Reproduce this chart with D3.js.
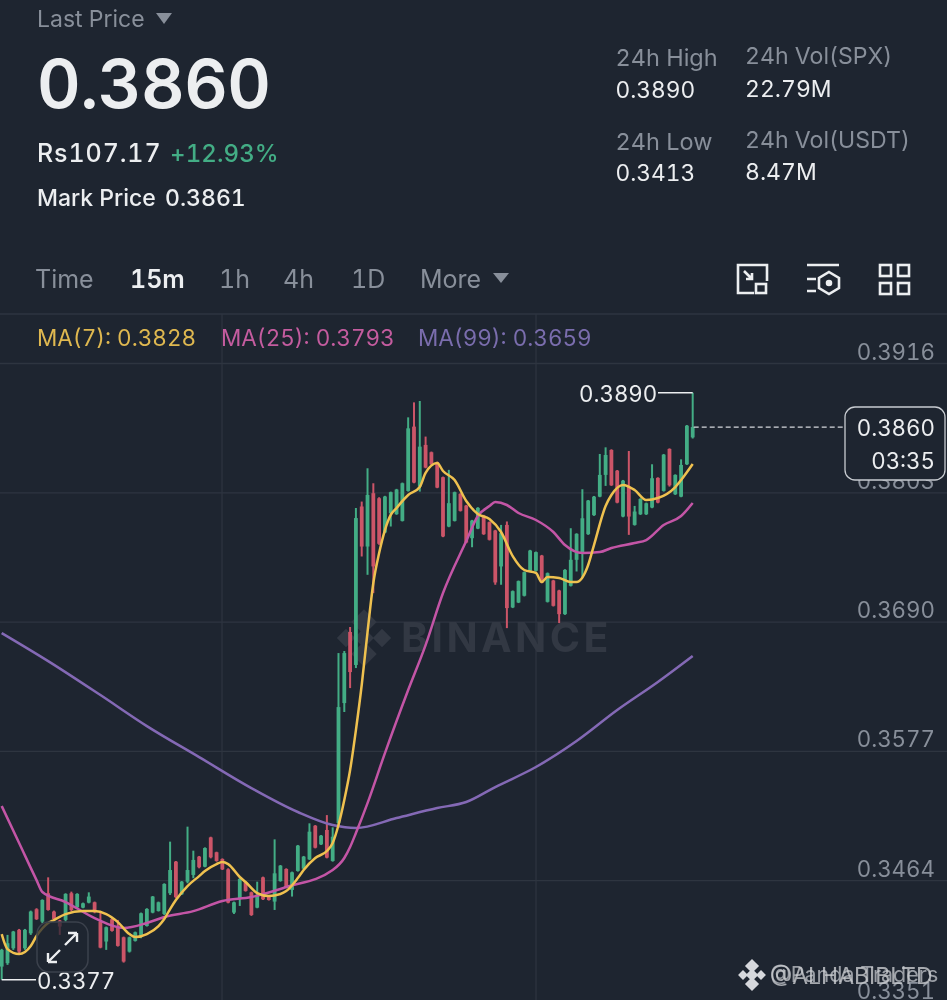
<!DOCTYPE html>
<html><head><meta charset="utf-8">
<script src="https://cdn.jsdelivr.net/npm/d3@7"></script>
<style>html,body{margin:0;padding:0;background:#1e2530;overflow:hidden}svg{display:block;filter:blur(.45px)}text{font-family:Inter,"Noto Sans",sans-serif;font-variant-numeric:tabular-nums}</style>
</head><body><svg id="c" width="947" height="1000"></svg>
<script>
const candleOpen=[.33885,.33915,.34045,.34206,.34045,.34176,.34386,.34278,.34526,.34366,.34287,.34293,.34526,.34403,.34400,.34444,.34447,.34278,.34104,.34299,.34235,.34141,.34016,.34110,.34147,.34240,.34357,.34371,.34345,.34526,.34802,.34517,.34627,.34686,.34846,.34758,.35014,.34884,.34825,.34735,.34357,.34482,.34622,.34534,.34400,.34665,.34505,.34453,.34633,.34738,.34555,.34721,.34741,.34822,.35116,.34953,.35079,.34808,.35140,.36188,.36809,.36521,.37906,.37556,.38022,.37978,.37679,.37847,.37839,.37780,.38042,.38604,.38080,.38444,.38380,.38293,.38162,.37731,.37780,.38016,.37914,.37629,.37713,.37827,.37769,.37696,.37382,.37745,.37024,.37067,.37126,.37344,.37344,.37477,.37073,.37259,.37172,.36965,.37213,.37440,.37498,.37664,.37830,.37992,.38182,.38400,.38219,.37818,.38080,.37745,.37838,.37838,.37897,.38156,.38042,.38409,.38013,.37992,.38275,.38510];
const candleHigh=[.34040,.34162,.34197,.34214,.34214,.34374,.34395,.34473,.34665,.34374,.34293,.34526,.34540,.34526,.34444,.34534,.34453,.34366,.34235,.34307,.34293,.34147,.34147,.34191,.34357,.34395,.34502,.34453,.34613,.34977,.34808,.34633,.35108,.34898,.34852,.34927,.35020,.34889,.34831,.34744,.34453,.34657,.34627,.34540,.34627,.34671,.34511,.34997,.34773,.34744,.34715,.34948,.34852,.35137,.35122,.35035,.35209,.35102,.36625,.36643,.36853,.37893,.37949,.38240,.38109,.37987,.37999,.38036,.38060,.38115,.38685,.38816,.38828,.38517,.38386,.38298,.38167,.38226,.38036,.38022,.37920,.37789,.37900,.37833,.37775,.37702,.37745,.37775,.37172,.37259,.37338,.37527,.37512,.37483,.37329,.37265,.37178,.37358,.37716,.37672,.38057,.37963,.37998,.38365,.38423,.38406,.38225,.38138,.38391,.37911,.37978,.37940,.38275,.38161,.38365,.38414,.38187,.38318,.38618,.38900];
const candleLow=[.33770,.33900,.34031,.33987,.34031,.34162,.34293,.34264,.34374,.34293,.34162,.34278,.34366,.34395,.34395,.34438,.34351,.34045,.34031,.34191,.34060,.33920,.34008,.34104,.34133,.34235,.34351,.34366,.34336,.34511,.34482,.34511,.34613,.34657,.34744,.34753,.34831,.34802,.34729,.34438,.34345,.34415,.34540,.34328,.34395,.34467,.34462,.34380,.34627,.34569,.34497,.34715,.34735,.34817,.34918,.34948,.34831,.34802,.35105,.36110,.36319,.36494,.37469,.37309,.37149,.37571,.37673,.37731,.37833,.37775,.38036,.38109,.38036,.38240,.38269,.38066,.37638,.37725,.37775,.37862,.37585,.37550,.37708,.37658,.37609,.37222,.37222,.36843,.37018,.37062,.37120,.37338,.37338,.37236,.37067,.37032,.36887,.36959,.37207,.37338,.37280,.37658,.37824,.37987,.38086,.38086,.37934,.37812,.37658,.37739,.37832,.37832,.37891,.37934,.38036,.38080,.38007,.37987,.38269,.38500];
const candleClose=[.34031,.34089,.34191,.34016,.34206,.34366,.34299,.34467,.34380,.34299,.34235,.34520,.34380,.34520,.34438,.34497,.34360,.34051,.34229,.34197,.34066,.33929,.34141,.34185,.34351,.34389,.34497,.34447,.34607,.34729,.34491,.34627,.34729,.34817,.34753,.34921,.34840,.34808,.34735,.34444,.34447,.34651,.34546,.34336,.34511,.34473,.34467,.34700,.34767,.34575,.34709,.34942,.34846,.35064,.34924,.35029,.34837,.35020,.36153,.36625,.36459,.37805,.37556,.38007,.37382,.37580,.37993,.38031,.38054,.38109,.38589,.38115,.38429,.38246,.38275,.38071,.37644,.37935,.38031,.37868,.37591,.37783,.37894,.37664,.37615,.37242,.37673,.37018,.37166,.37254,.37332,.37521,.37507,.37242,.37323,.37038,.36965,.37352,.37440,.37667,.37803,.37958,.37992,.38182,.38356,.38091,.37940,.38132,.37818,.37862,.37972,.37934,.38153,.37940,.38359,.38091,.38182,.38269,.38612,.38600];
const ma7Index=[0,1,3,5,6,8,9,11,14,16,18,20,22,23,25,27,28,29,30,32,34,35,37,38,39,41,42,44,46,48,49,51,52,54,56,57,58,59,60,61,62,63,64,65,66,67,68,70,72,73,75,76,78,80,82,84,86,88,90,92,93,94,96,98,99,101,102,104,105,107,109,111,113,116,117,119];
const ma7Value=[.34169,.34038,.33995,.34065,.34152,.34266,.34292,.34344,.34370,.34370,.34344,.34274,.34169,.34143,.34169,.34239,.34301,.34388,.34467,.34589,.34676,.34720,.34781,.34799,.34781,.34668,.34624,.34528,.34502,.34519,.34545,.34659,.34729,.34834,.34895,.34965,.35122,.35341,.35603,.35952,.36346,.36809,.37237,.37499,.37700,.37832,.37893,.38006,.38076,.38199,.38286,.38216,.38137,.37954,.37840,.37797,.37683,.37473,.37351,.37325,.37246,.37290,.37281,.37246,.37246,.37395,.37569,.37910,.38006,.38094,.38050,.37963,.37980,.38076,.38137,.38277];
const ma25Index=[0,3,6,7,11,16,21,25,28,33,38,43,49,57,59,60,61,63,66,70,73,76,80,82,84,85,87,89,92,95,97,100,103,105,109,111,114,117,119];
const ma25Value=[.35288,.34965,.34641,.34537,.34449,.34309,.34222,.34266,.34318,.34370,.34458,.34493,.34580,.34729,.34834,.34930,.35052,.35314,.35751,.36302,.36695,.37150,.37604,.37823,.37910,.37945,.37919,.37849,.37788,.37683,.37569,.37499,.37508,.37543,.37587,.37613,.37744,.37823,.37936];
const ma99Index=[0,8,17,25,34,43,51,57,61,68,75,80,85,92,99,106,113,119];
const ma99Value=[.36800,.36555,.36258,.35987,.35716,.35445,.35236,.35122,.35096,.35183,.35271,.35323,.35454,.35629,.35856,.36127,.36372,.36599];
const priceTicks=[.3916,.3803,.3690,.3577,.3464,.3351];
const timeTabs=["Time","15m","1h","4h","1D","More"];
const highPrice=.3890,lowPrice=.3377,lastPrice=.3860;

const BG="#1e2530",GREY="#888f9a",WHITE="#eceef0",GRID="#2e3540",UP="#43ad85",DOWN="#cc5568";
const svg=d3.select("#c");
svg.append("rect").attr("width",947).attr("height",1000).attr("fill",BG);
const x=d3.scaleLinear().domain([0,candleOpen.length-1]).range([1.7,692.7]);
const y=d3.scaleLinear().domain([.3351,.3916]).range([1009.5,363]);
function txt(t,px,py,size,fill,weight,anchor,ls){return svg.append("text").text(t).attr("x",px).attr("y",py).attr("font-size",size).attr("fill",fill).attr("font-weight",weight||400).attr("text-anchor",anchor||"start").attr("letter-spacing",ls||0);}
function tri(x0,y0,w,h,fill){svg.append("path").attr("d",`M${x0},${y0}h${w}l${-w/2},${h}z`).attr("fill",fill);}

// header
txt("Last Price",37,27,23,GREY,400);tri(156,13,16,11,GREY);
txt("0.3860",37,108,67.5,WHITE,600,"start",-.5);
txt("Rs107.17",37,162,25,WHITE,500,"start",.9);txt("+12.93%",170,162,24,UP,500,"start",.1);
txt("Mark Price",37,206,23,WHITE,500);txt("0.3861",165,206,23,WHITE,500);
txt("24h High",615.5,66,23.5,GREY);txt("0.3890",615.5,98,22.7,WHITE);
txt("24h Vol(SPX)",745,64,23.1,GREY);txt("22.79M",745,97,23,WHITE);
txt("24h Low",615.5,150,23.5,GREY);txt("0.3413",615.5,181,22.7,WHITE);
txt("24h Vol(USDT)",745,148,23.1,GREY);txt("8.47M",745,180,23,WHITE);
// tabs
const tabX=[35,130,219,283,351,420];
timeTabs.forEach((t,i)=>txt(t,tabX[i],288,25,i==1?WHITE:GREY,i==1?600:400));
tri(493,273,16,10,GREY);
const icon=svg.append("g").attr("fill","none").attr("stroke",WHITE).attr("stroke-width",2.6);
icon.append("path").attr("d","M754,293H738V265H767V281M744,271L752,279M752,273V279H746");
icon.append("rect").attr("x",756).attr("y",284).attr("width",10).attr("height",9);
icon.append("path").attr("d","M807,265H839M807,279H816M807,291H816");
icon.append("path").attr("d","M829,272L839,278V288L829,294L819,288V278Z");
icon.append("circle").attr("cx",829).attr("cy",283).attr("r",2).attr("fill",WHITE);
[[880,265],[898,265],[880,283],[898,283]].forEach(p=>icon.append("rect").attr("x",p[0]).attr("y",p[1]).attr("width",11).attr("height",11));
// grid
[314].forEach(v=>svg.append("line").attr("x1",0).attr("x2",947).attr("y1",v).attr("y2",v).attr("stroke",GRID).attr("stroke-width",1.3));
[222,536].forEach(v=>svg.append("line").attr("x1",v).attr("x2",v).attr("y1",314).attr("y2",1000).attr("stroke",GRID).attr("stroke-width",1.2));
const axis=d3.axisRight(y).tickValues(priceTicks.slice(0,5)).tickSize(947).tickFormat(d3.format(".4f"));
const ag=svg.append("g").call(axis);
ag.select(".domain").remove();
ag.selectAll("line").attr("stroke",GRID).attr("stroke-width",1.3);
ag.selectAll("text").attr("x",935).attr("dy",0).attr("y",-4).attr("text-anchor","end").attr("font-size",22.3).attr("fill",GREY);
// legend
txt("MA(7): 0.3828",37,346,22.5,"#dfb850");
txt("MA(25): 0.3793",221,346,22.5,"#c45c9f");
txt("MA(99): 0.3659",418,346,22.5,"#7a6dad");
// watermark
const wm=svg.append("g").attr("fill","#323843");
[[364,622,9],[364,654,9],[346,638,6.5],[382,638,6.5],[364,638,7]].forEach(d=>wm.append("rect").attr("x",d[0]-d[2]).attr("y",d[1]-d[2]).attr("width",d[2]*2).attr("height",d[2]*2).attr("transform",`rotate(45 ${d[0]} ${d[1]})`));
txt("BINANCE",401,652,41,"#323843",700,"start",3.4);
// candles
const idx=d3.range(candleOpen.length);
const g=svg.append("g");
g.selectAll(".w").data(idx).join("line").attr("x1",i=>x(i)).attr("x2",i=>x(i)).attr("y1",i=>y(candleHigh[i])).attr("y2",i=>y(candleLow[i])).attr("stroke",i=>candleClose[i]>=candleOpen[i]?UP:DOWN).attr("stroke-width",2);
g.selectAll(".b").data(idx).join("rect").attr("x",i=>x(i)-1.9).attr("width",3.8).attr("y",i=>y(Math.max(candleOpen[i],candleClose[i]))).attr("height",i=>Math.max(1,Math.abs(y(candleOpen[i])-y(candleClose[i])))).attr("fill",i=>candleClose[i]>=candleOpen[i]?UP:DOWN);
// moving averages
const line=d3.line().x(d=>x(d[0])).y(d=>y(d[1])).curve(d3.curveMonotoneX);
[[ma99Index,ma99Value,"#8469b5"],[ma25Index,ma25Value,"#c355a6"],[ma7Index,ma7Value,"#efc14f"]].forEach(m=>{
 svg.append("path").attr("d",line(d3.zip(m[0],m[1]))).attr("fill","none").attr("stroke",m[2]).attr("stroke-width",2.5);
});
// hi/lo labels
const lastX=x(candleOpen.length-1);
svg.append("path").attr("d",`M${lastX},${y(highPrice)}H658`).attr("stroke",WHITE).attr("stroke-width",1.4).attr("fill","none");
txt(d3.format(".4f")(highPrice),579,402,22.3,WHITE);
svg.append("path").attr("d",`M${x(0)},${y(lowPrice)}H36`).attr("stroke",WHITE).attr("stroke-width",1.4).attr("fill","none");
txt(d3.format(".4f")(lowPrice),37,989,22.3,WHITE);
// last price
svg.append("line").attr("x1",lastX+1).attr("x2",845).attr("y1",y(lastPrice)).attr("y2",y(lastPrice)).attr("stroke","#d5d8dc").attr("stroke-width",1.2).attr("stroke-dasharray","5 3");
svg.append("rect").attr("x",845).attr("y",407).attr("width",100).attr("height",73).attr("rx",10).attr("fill",BG).attr("stroke","#c8ccd1").attr("stroke-width",1.3);
txt(d3.format(".4f")(lastPrice),935,436,22.3,WHITE,400,"end");
txt("03:35",935,469,22.3,WHITE,400,"end");
// expand button
svg.append("rect").attr("x",37).attr("y",922).attr("width",51).attr("height",50).attr("rx",12).attr("fill",BG).attr("fill-opacity",.72).attr("stroke","#3b414c").attr("stroke-width",1.5);
svg.append("path").attr("d","M48,962L60,950M48,962V953M48,962H57M65,945L77,933M77,933H68M77,933V942").attr("fill","none").attr("stroke",WHITE).attr("stroke-width",2.4);
// bottom marks
const bm=svg.append("g").attr("fill","#d6d8dc");
[[752,966,5],[752,984,5],[743,975,3.5],[761,975,3.5],[752,975,4.5]].forEach(d=>bm.append("rect").attr("x",d[0]-d[2]).attr("y",d[1]-d[2]).attr("width",d[2]*2).attr("height",d[2]*2).attr("transform",`rotate(45 ${d[0]} ${d[1]})`));
txt(d3.format(".4f")(priceTicks[5]),935,999,22.3,GREY,400,"end");
txt("@Panda Traders",770,982,21.5,"#9a9ea5");
txt("@ALHABIBLTD",770,984,23,"#c9ccd0").attr("fill-opacity",.8);
</script></body></html>
